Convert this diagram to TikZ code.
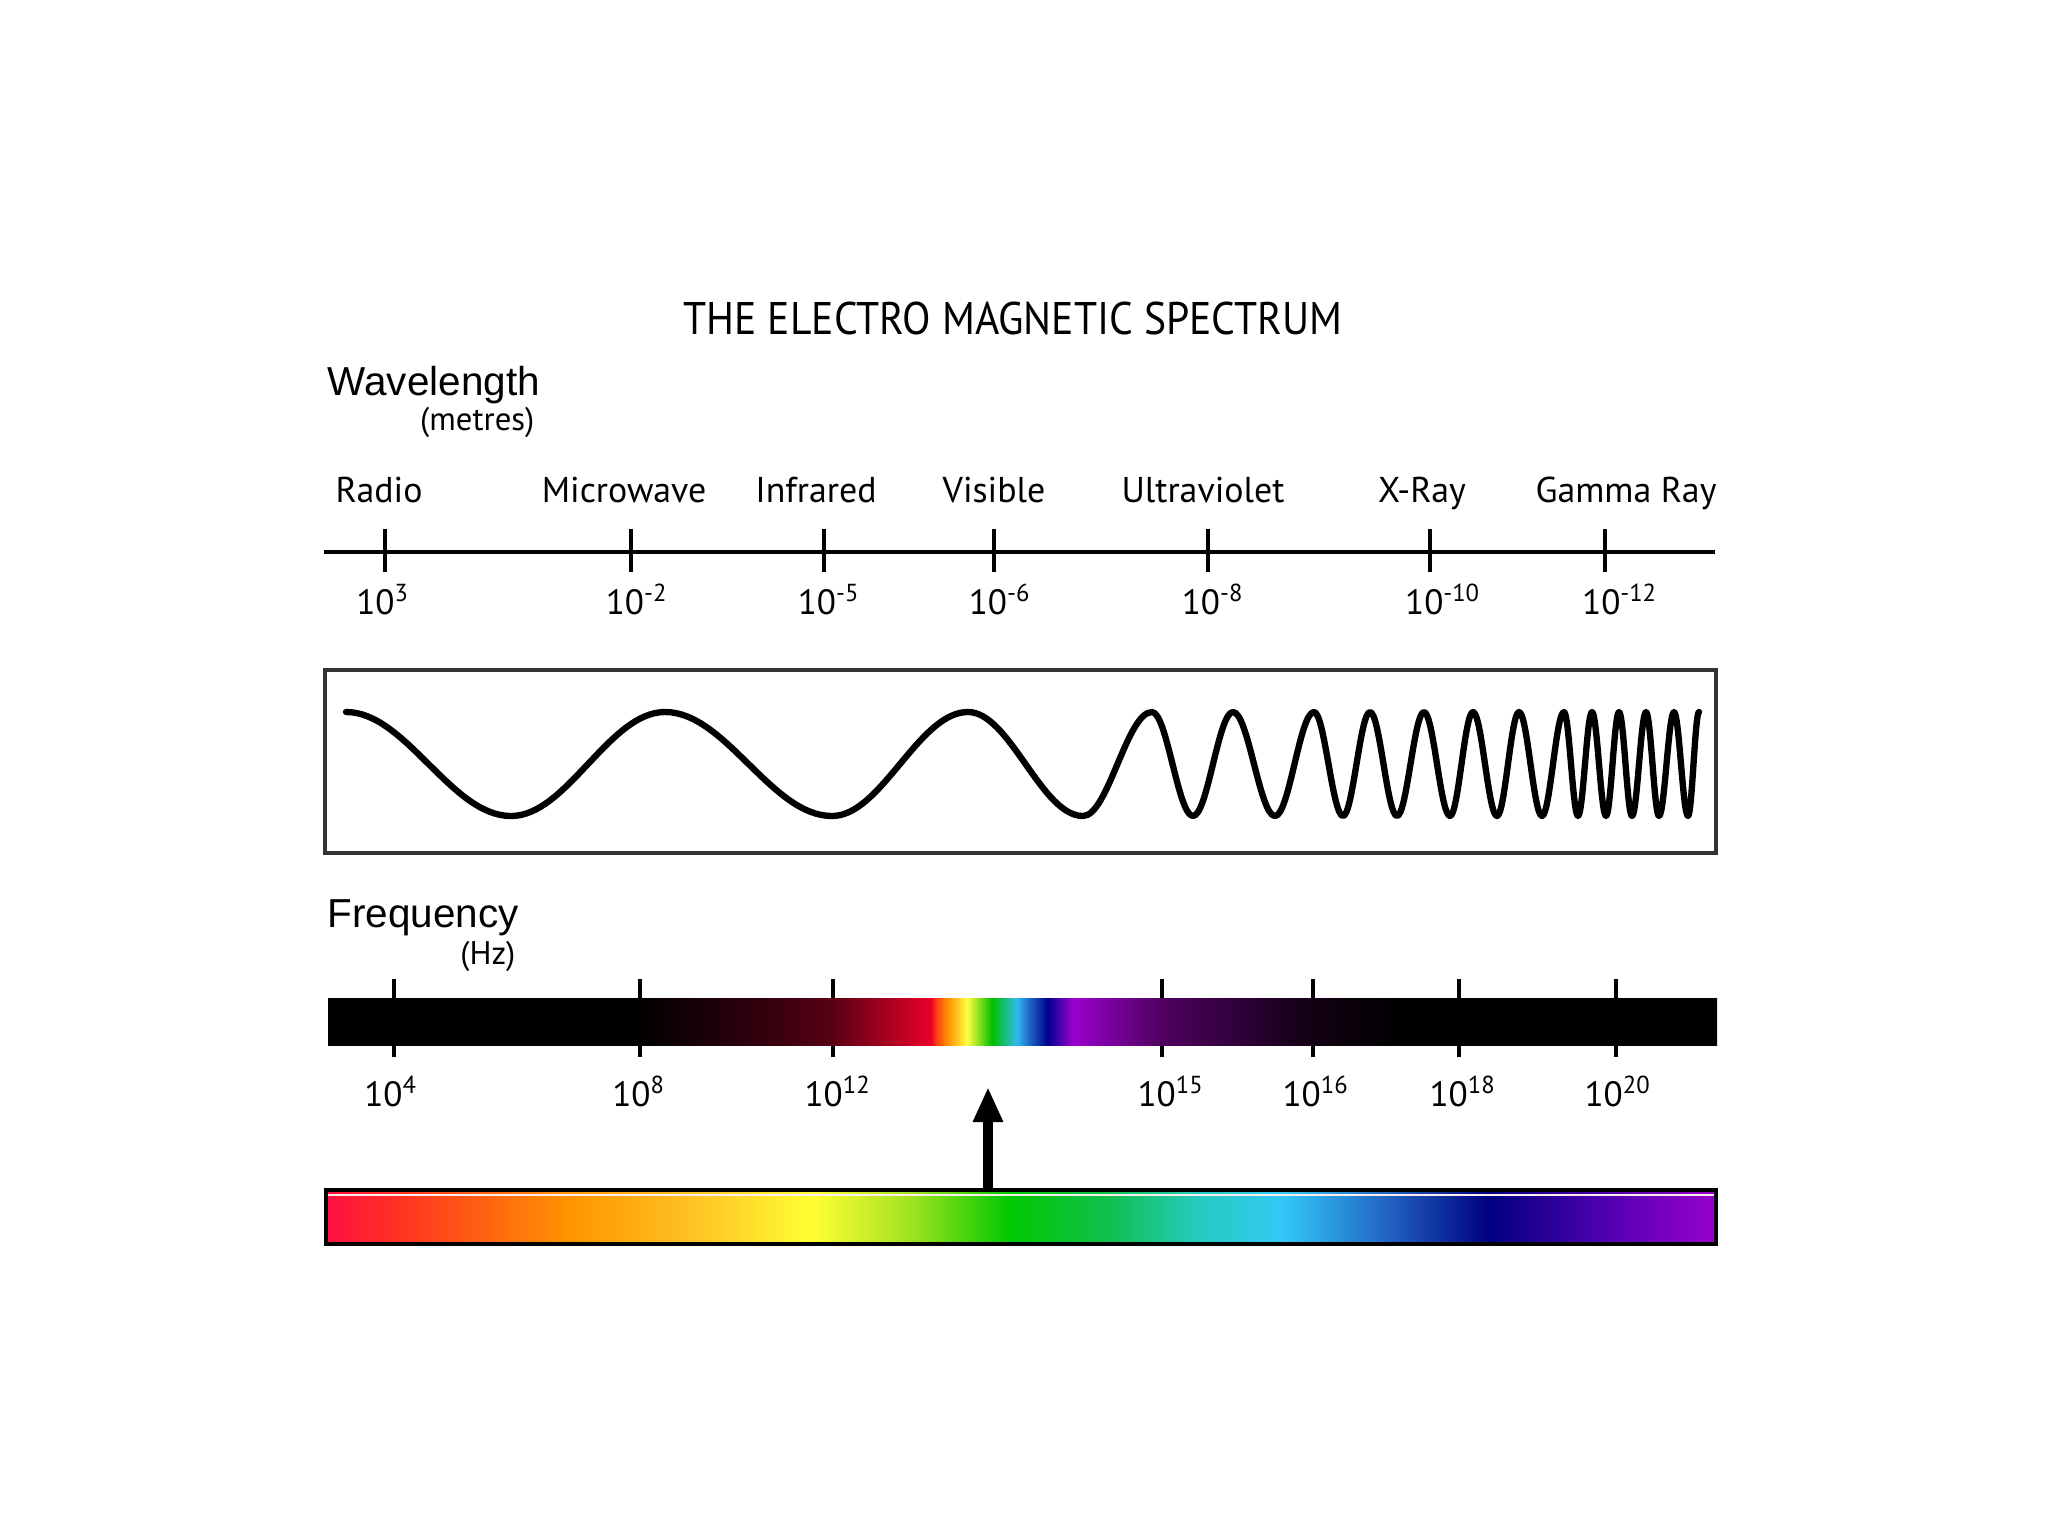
\documentclass[tikz,border=0pt]{standalone}
\usepackage{fontspec}
\usepackage{xcolor}
\usepackage{tikz}
\setmainfont{PT Sans}
\newfontfamily\headfont{Liberation Sans}
\newfontfamily\titlefont[FakeStretch=0.91]{PT Sans}
\usetikzlibrary{positioning, arrows.meta}

% colours of the frequency bar
\definecolor{specDark}{HTML}{3A0010}
\definecolor{specMaroon}{HTML}{5A0014}
\definecolor{specRed}{HTML}{E8002A}
\definecolor{specRedOr}{HTML}{FF4010}
\definecolor{specOrange}{HTML}{FF9000}
\definecolor{specYellow}{HTML}{FFFF40}
\definecolor{specGreen}{HTML}{00C000}
\definecolor{specCyan}{HTML}{30B8F0}
\definecolor{specBlue}{HTML}{1E5CC0}
\definecolor{specNavy}{HTML}{000090}
\definecolor{specViolet}{HTML}{9900CC}
\definecolor{specPlum}{HTML}{500060}
\definecolor{specInk}{HTML}{120014}
% colours of the visible band
\definecolor{rbRed}{HTML}{FF1040}
\definecolor{rbScarlet}{HTML}{FF3520}
\definecolor{rbOrange}{HTML}{FF9500}
\definecolor{rbGold}{HTML}{FFC425}
\definecolor{rbYellow}{HTML}{FFFF33}
\definecolor{rbLime}{HTML}{9EE21F}
\definecolor{rbGreen}{HTML}{00C800}
\definecolor{rbJade}{HTML}{12C050}
\definecolor{rbTeal}{HTML}{25CBC0}
\definecolor{rbSky}{HTML}{33C8F8}
\definecolor{rbBlue}{HTML}{2060C0}
\definecolor{rbNavy}{HTML}{000080}
\definecolor{rbIndigo}{HTML}{5000B0}
\definecolor{rbViolet}{HTML}{9900CC}

\pgfdeclarehorizontalshading{freqbar}{100bp}{color(0bp)=(black); color(25bp)=(black);
  color(36.2bp)=(black); color(41.3bp)=(specDark); color(43.2bp)=(specMaroon);
  color(46.7bp)=(specRed); color(46.9bp)=(specRedOr); color(47.3bp)=(specOrange);
  color(48bp)=(specYellow); color(48.9bp)=(specGreen); color(49.8bp)=(specCyan);
  color(50.3bp)=(specBlue); color(50.9bp)=(specNavy); color(51.8bp)=(specViolet);
  color(55bp)=(specPlum); color(60.4bp)=(specInk); color(63.6bp)=(black);
  color(100bp)=(black)}
\pgfdeclarehorizontalshading{rainbow}{100bp}{color(0bp)=(rbRed); color(25bp)=(rbRed);
  color(27.9bp)=(rbScarlet); color(33.8bp)=(rbOrange); color(38.3bp)=(rbGold);
  color(42.5bp)=(rbYellow); color(46.1bp)=(rbLime); color(49.6bp)=(rbGreen);
  color(53.2bp)=(rbJade); color(56.4bp)=(rbTeal); color(59.4bp)=(rbSky);
  color(63.3bp)=(rbBlue); color(66.8bp)=(rbNavy); color(71bp)=(rbIndigo);
  color(75bp)=(rbViolet); color(100bp)=(rbViolet)}

\begin{document}
\begin{tikzpicture}[x=0.01cm, y=-0.01cm,
    maintitle/.style={anchor=base, font=\titlefont\fontsize{13}{15}\selectfont},
    heading/.style={anchor=base west, inner sep=0pt, font=\headfont\fontsize{11.5}{13}\selectfont},
    unit/.style={anchor=base east, inner sep=0pt, font=\fontsize{9.3}{10}\selectfont},
    band/.style={anchor=base, font=\fontsize{10.2}{12}\selectfont},
    expo/.style={anchor=base, font=\fontsize{10}{12}\selectfont},
    tickmark/.style={line width=0.9pt},
    wavepath/.style={line width=1.8pt, line cap=round, line join=round}]
  \useasboundingbox[fill=white] (0,0) rectangle (2048,1536);

  \node[maintitle] (title) at (1013,334) {THE ELECTRO MAGNETIC SPECTRUM};

  % wavelength scale
  \node[heading] (wl) at (327,395) {Wavelength};
  \node[unit] (metres) at (535,430) {(metres)};
  \draw[line width=1.2pt] (324,552) -- (1715,552);
  \foreach \x in {385,631,824,994,1208,1430,1605}
    \draw[tickmark] (\x,529) -- (\x,572);
  \foreach \x/\name/\txt in {379/radio/Radio, 624/micro/Microwave, 816/infra/Infrared,
      994/visible/Visible, 1203/ultra/Ultraviolet, 1422/xray/X-Ray, 1626/gamma/Gamma Ray}
    \node[band] (\name) at (\x,502) {\txt};
  \foreach \x/\name/\e in {383/w3/3, 637/wm2/-2, 829/wm5/-5, 1000/wm6/-6,
      1213/wm8/-8, 1443/wm10/-10, 1620/wm12/-12}
    \node[expo] (\name) at (\x,614) {10\textsuperscript{\e}};

  % the wave
  \draw[black!80, line width=1pt] (325,670) rectangle (1716,853);
  \draw[wavepath] (346,712)
    \foreach \xa/\ya [remember=\xa as \xp (initially 346)] in {511/816, 665/712,
      832/816, 968/712, 1083/816, 1152/712, 1193/816, 1233/712, 1275/816,
      1314/712, 1343/816, 1370/712, 1397/816, 1424/712, 1450/816, 1473/712,
      1497/816, 1519/712, 1542/816, 1564/712, 1578/816, 1592/712, 1606/816,
      1619/712, 1632/816, 1646/712, 1659/816, 1674/712, 1688/816, 1699/712}
    { cos ({(\xp+\xa)/2},764) sin (\xa,\ya) };

  % frequency scale
  \node[heading] (freq) at (327,927) {Frequency};
  \node[unit] (hz) at (516,964) {(Hz)};
  \foreach \x in {394,640,833,1162,1313,1459,1616}
    \draw[tickmark] (\x,979) -- (\x,1057);
  \shade[shading=freqbar] (328,998) rectangle (1717,1045);
  \foreach \x/\name/\e in {391/f4/4, 639/f8/8, 838/f12/12, 1171/f15/15,
      1316/f16/16, 1463/f18/18, 1618/f20/20}
    \node[expo] (\name) at (\x,1106) {10\textsuperscript{\e}};

  % visible band
  \shade[shading=rainbow, draw=black, line width=1.1pt] (326,1190) rectangle (1716,1244);
  \draw[white!70!pink, line width=0.4pt] (328,1195) -- (1714,1195);
  \coordinate (arrowfoot) at (988,1189);
  \coordinate (arrowtip) at (988,1087);
  \draw[-{Triangle[length=10pt,width=8pt]}, line width=2.6pt] (arrowfoot) -- (arrowtip);
\end{tikzpicture}
\end{document}
